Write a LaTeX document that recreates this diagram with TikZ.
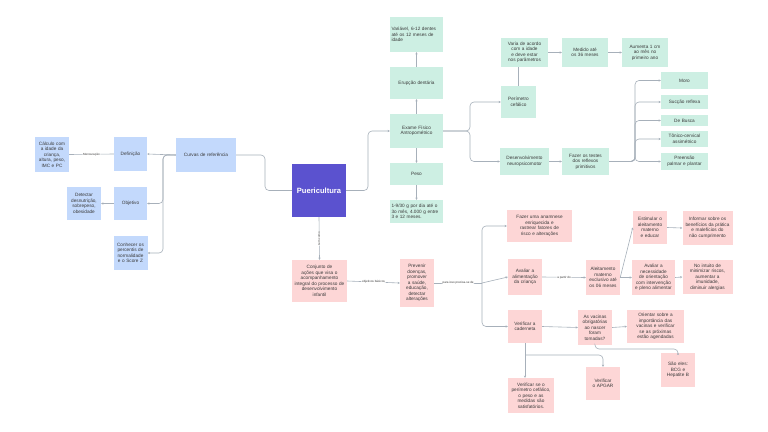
\documentclass[tikz,border=0pt]{standalone}
\usepackage{fontspec}
\setmainfont{Liberation Sans}
\usetikzlibrary{arrows.meta,calc}
\definecolor{bluebox}{HTML}{C3D9FC}
\definecolor{tealbox}{HTML}{CDEFE3}
\definecolor{pinkbox}{HTML}{FDD6D6}
\definecolor{purplebox}{HTML}{5B52CF}
\definecolor{linegray}{HTML}{A7B0BA}
\definecolor{txt}{HTML}{3A3A3A}
\newcommand{\nohyph}{\hyphenpenalty=10000\relax\exhyphenpenalty=10000\relax}
\tikzset{
  bx/.style={draw=none, inner ysep=1pt, inner xsep=1.5pt, align=center, text=txt,
    font=\fontsize{4.7}{5.5}\selectfont\nohyph},
  bbox/.style={bx, fill=bluebox},
  tbox/.style={bx, fill=tealbox},
  pbox/.style={bx, fill=pinkbox},
  conn/.style={draw=linegray, line width=0.6pt, rounded corners=4pt, -{Stealth[length=2.2pt,width=2.2pt]}},
  conn0/.style={draw=linegray, line width=0.6pt, rounded corners=4pt},
  lbl/.style={fill=white, inner sep=0.6pt, text=txt, font=\fontsize{3}{3.5}\selectfont}
}
\newcommand{\bxx}[7]{\node[#1, minimum width=#4pt, minimum height=#5pt, text width=#6pt] (#2) at #3 {#7};}
\begin{document}
\begin{tikzpicture}[x=1pt,y=-1pt]
\useasboundingbox (0,0) rectangle (768,431);
\fill[white] (0,0) rectangle (768,431);
% left (blue)
\bxx{bbox}{calc}{(52,154.5)}{34}{35}{30}{Cálculo com a idade da criança, altura, peso, IMC e PC}
\bxx{bbox}{defin}{(130.5,154)}{33}{34}{30}{Definição}
\bxx{bbox}{curvas}{(206,155)}{60}{34}{56}{Curvas de referência}
\bxx{bbox}{objet}{(130.5,203.5)}{33}{33}{30}{Objetivo}
\bxx{bbox}{detect}{(84,203.5)}{34}{33}{31}{Detectar desnutrição, sobrepeso, obesidade}
\bxx{bbox}{conhec}{(130.5,253)}{33}{34}{31}{Conhecer os percentis de normalidade e o Score Z}
% centre
\node[fill=purplebox, minimum width=54pt, minimum height=53pt, text=white, font=\fontsize{7.6}{8.6}\selectfont\bfseries] (puer) at (319,190.5) {Puericultura};
% teal column
\node[tbox, minimum width=53pt, minimum height=35pt, text width=50pt, align=left] (variavel) at (416.5,34.5) {Variável, 6-12 dentes até os 12 meses de idade};
\bxx{tbox}{erup}{(416.5,83)}{53}{32}{50}{Erupção dentária}
\bxx{tbox}{exame}{(416.5,131)}{53}{34}{48}{Exame Físico Antropométrico}
\bxx{tbox}{peso}{(416.5,174)}{53}{22}{50}{Peso}
\node[tbox, minimum width=53pt, minimum height=23pt, text width=50pt, align=left] (ganho) at (416.5,211.5) {1-9/30 g por dia até o 3o mês, 4.000 g entre 3 e 12 meses.};
% teal right
\bxx{tbox}{varia}{(524.5,52.5)}{47}{29}{40}{Varia de acordo com a idade e deve estar nos parâmetros}
\bxx{tbox}{medido}{(585,52.5)}{46}{29}{40}{Medido até os 36 meses}
\bxx{tbox}{aumenta}{(645,52.5)}{46}{29}{42}{Aumenta 1 cm ao mês no primeiro ano}
\bxx{tbox}{perim}{(518.5,102)}{35}{32}{30}{Perímetro cefálico}
\bxx{tbox}{desenv}{(524.5,161.5)}{47}{27}{46}{Desenvolvimento neuropsicomotor}
\bxx{tbox}{fazer}{(585.5,161.5)}{47}{27}{40}{Fazer os testes dos reflexos primitivos}
\bxx{tbox}{moro}{(684.5,80.5)}{47}{17}{44}{Moro}
\bxx{tbox}{succao}{(684.5,102)}{47}{14}{44}{Sucção reflexa}
\bxx{tbox}{busca}{(684.5,120.5)}{47}{11}{44}{De Busca}
\bxx{tbox}{tonico}{(684.5,139)}{47}{16}{44}{Tônico-cervical assimétrico}
\bxx{tbox}{preensao}{(684.5,161.5)}{47}{17}{44}{Preensão palmar e plantar}
% pink
\bxx{pbox}{conjunto}{(319.5,281)}{55}{42}{50}{Conjunto de ações que visa o acompanhamento integral do processo de desenvolvimento infantil}
\bxx{pbox}{prevenir}{(417,283)}{34}{48}{31}{Prevenir doenças, promover a saúde, educação, detectar alterações}
\bxx{pbox}{anamnese}{(539.5,226)}{65}{32}{58}{Fazer uma anamnese enriquecida e rastrear fatores de risco e alterações}
\bxx{pbox}{aval}{(525,277)}{34}{36}{30}{Avaliar a alimentação da criança}
\bxx{pbox}{aleit}{(603,277.5)}{34}{35}{31}{Aleitamento materno exclusivo até os 06 meses}
\bxx{pbox}{estim}{(650,227.5)}{34}{33}{30}{Estimular o aleitamento materno e educar}
\bxx{pbox}{necess}{(653.5,277.5)}{41}{35}{40}{Avaliar a necessidade de orientação com intervenção e pleno alimentar}
\bxx{pbox}{informar}{(707.5,228)}{49}{34}{47}{Informar sobre os benefícios da prática e malefícios do não cumprimento}
\bxx{pbox}{intuito}{(707.5,277)}{49}{34}{47}{No intuito de minimizar riscos, aumentar a imunidade, diminuir alergias}
\bxx{pbox}{cadern}{(525,326.5)}{34}{33}{30}{Verificar a caderneta}
\bxx{pbox}{vacinas}{(595,327.5)}{34}{35}{31}{As vacinas obrigatórias ao nascer foram tomadas?}
\bxx{pbox}{orientar}{(655.5,326.5)}{57}{33}{54}{Orientar sobre a importância das vacinas e verificar se as próximas estão agendadas}
\bxx{pbox}{saoeles}{(678,370)}{34}{34}{26}{São eles: BCG e Hepatite B}
\bxx{pbox}{apgar}{(603,383.5)}{34}{33}{31}{Verificar o APGAR}
\bxx{pbox}{verifper}{(531,395.5)}{46}{35}{40}{Verificar se o perímetro cefálico, o peso e as medidas são satisfatórios.}
% coordinates
\coordinate (lt) at (163,155);
\coordinate (cp) at (265,155);
\coordinate (pe) at (368,190.5);
\coordinate (et) at (470,131);
\coordinate (ft) at (635,161.5);
\coordinate (pt) at (482,283);
\coordinate (vt) at (595,349);
\coordinate (cb) at (525,355);
% connectors left
\draw[conn] (curvas.west) -- (defin.east);
\draw[conn] (curvas.west) -- (lt) |- (objet.east);
\draw[conn] (curvas.west) -- (lt) |- (conhec.east);
\draw[conn0] (defin.west) -- node[lbl]{Mensuração} (calc.east);
\draw[conn] (objet.west) -- (detect.east);
\draw[conn0] (curvas.east) -- (cp) |- (puer.west);
% centre to teal
\draw[conn] (puer.east) -- (pe) |- (exame.west);
\draw[conn] (exame.north) -- (erup.south);
\draw[conn] (erup.north) -- (variavel.south);
\draw[conn] (exame.south) -- (peso.north);
\draw[conn] (peso.south) -- (ganho.north);
\draw[conn] (exame.east) -- (et) |- (perim.west);
\draw[conn] (exame.east) -- (et) |- (desenv.west);
\draw[conn0] (perim.north) -- (perim.north |- varia.south);
\draw[conn] (varia.east) -- (medido.west);
\draw[conn] (medido.east) -- (aumenta.west);
\draw[conn] (desenv.east) -- (fazer.west);
\foreach \r in {moro,succao,busca,tonico,preensao}
  \draw[conn] (fazer.east) -- (ft) |- (\r.west);
% bottom
\draw[conn] (puer.south) -- node[lbl, rotate=90]{tem como} (conjunto.north);
\draw[conn] (conjunto.east) -- node[lbl]{objetivos básicos} (prevenir.west);
\draw[conn0] (prevenir.east) -- node[lbl]{para isso precisa-se de} (pt);
\draw[conn] (pt) |- (anamnese.west);
\draw[conn] (pt) -- (aval.west);
\draw[conn] (pt) |- (cadern.west);
\draw[conn] (aval.east) -- node[lbl]{a partir do} (aleit.west);
\draw[conn] (aleit.east) -- (estim.west);
\draw[conn] (aleit.east) -- (necess.west);
\draw[conn] (estim.east) -- (informar.west);
\draw[conn] (necess.east) -- (intuito.west);
\draw[conn] (cadern.east) -- (vacinas.west);
\draw[conn] (vacinas.east) -- (orientar.west);
\draw[conn] (vacinas.south) -- (vt) -| (saoeles.north);
\draw[conn] (cadern.south) -- (cadern.south |- verifper.north);
\draw[conn] (cb) -| (apgar.north);
\end{tikzpicture}
\end{document}
